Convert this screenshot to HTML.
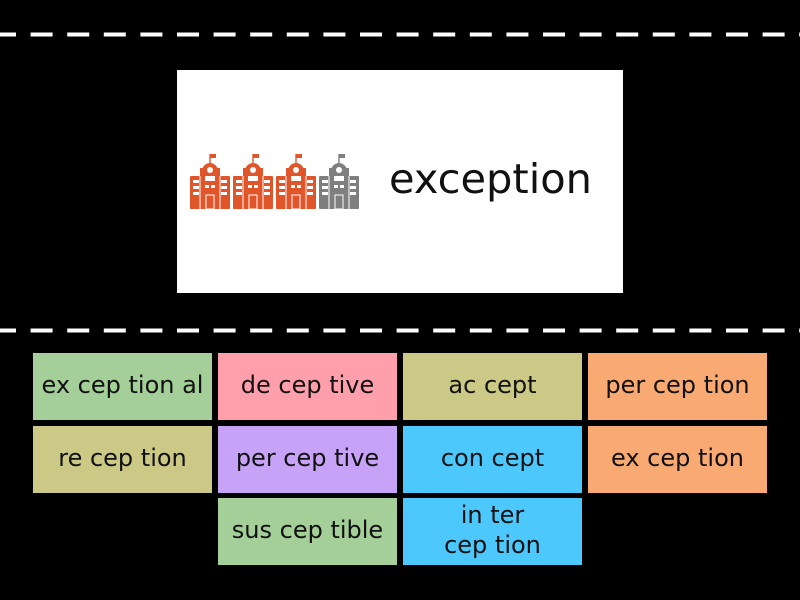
<!DOCTYPE html>
<html><head><style>
body{margin:0;width:800px;height:600px;background:#000;position:relative;overflow:hidden;font-family:"DejaVu Sans","Liberation Sans",sans-serif}
.t{position:absolute;width:179px;height:63px;padding-bottom:4px;display:flex;align-items:center;justify-content:center;text-align:center;font-size:24px;color:#111;line-height:30px}
.card{position:absolute;left:177px;top:70px;width:446px;height:223px;background:#fff}
</style></head><body>
<svg width="800" height="600" style="position:absolute;left:0;top:0">
<line x1="-6" y1="34.5" x2="800" y2="34.5" stroke="#fff" stroke-width="4" stroke-dasharray="22 14.6"/>
<line x1="-6" y1="330.5" x2="800" y2="330.5" stroke="#fff" stroke-width="4" stroke-dasharray="22 14.6"/>
</svg>
<div class="card"></div>
<svg width="800" height="600" style="position:absolute;left:0;top:0">
<defs>
<g id="b">
<rect x="0" y="22" width="40" height="33" rx="1"/>
<rect x="10" y="14" width="20" height="41"/>
<circle cx="20" cy="17" r="8"/>
<rect x="19.3" y="0" width="1.4" height="9"/>
<rect x="20" y="0" width="6" height="4"/>
</g>
<g id="w" fill="#fff">
<rect x="9.5" y="22" width="1" height="33"/><rect x="29.5" y="22" width="1" height="33"/>
<circle cx="20" cy="16" r="3"/>
<rect x="15" y="22" width="10" height="5"/>
<rect x="3" y="26" width="6" height="3"/><rect x="3" y="32" width="6" height="3"/><rect x="3" y="38" width="6" height="3"/>
<rect x="31" y="26" width="6" height="3"/><rect x="31" y="32" width="6" height="3"/><rect x="31" y="38" width="6" height="3"/>
<rect x="15" y="31" width="4" height="3"/><rect x="21" y="31" width="4" height="3"/>
<rect x="16" y="41" width="8" height="14" fill="none" stroke="#fff" stroke-width="1"/>
</g>
</defs>
<g transform="translate(190,154)" fill="#e0552a"><use href="#b"/><use href="#w"/></g>
<g transform="translate(233,154)" fill="#e0552a"><use href="#b"/><use href="#w"/></g>
<g transform="translate(276,154)" fill="#e0552a"><use href="#b"/><use href="#w"/></g>
<g transform="translate(319,154)" fill="#7f7f7f"><use href="#b"/><use href="#w"/></g>
<text x="389" y="193" font-family="DejaVu Sans, Liberation Sans, sans-serif" font-size="41" fill="#111" textLength="203" lengthAdjust="spacingAndGlyphs">exception</text>
</svg>
<div class="t" style="left:33px;top:353px;background:#a5cf98">ex cep tion al</div>
<div class="t" style="left:218px;top:353px;background:#ff9fac">de cep tive</div>
<div class="t" style="left:403px;top:353px;background:#cbc985">ac cept</div>
<div class="t" style="left:588px;top:353px;background:#f8aa72">per cep tion</div>
<div class="t" style="left:33px;top:426px;background:#cbc985">re cep tion</div>
<div class="t" style="left:218px;top:426px;background:#c6a3f6">per cep tive</div>
<div class="t" style="left:403px;top:426px;background:#4dc8fc">con cept</div>
<div class="t" style="left:588px;top:426px;background:#f8aa72">ex cep tion</div>
<div class="t" style="left:218px;top:498px;background:#a5cf98">sus cep tible</div>
<div class="t" style="left:403px;top:498px;background:#4dc8fc">in ter<br>cep tion</div>
</body></html>
